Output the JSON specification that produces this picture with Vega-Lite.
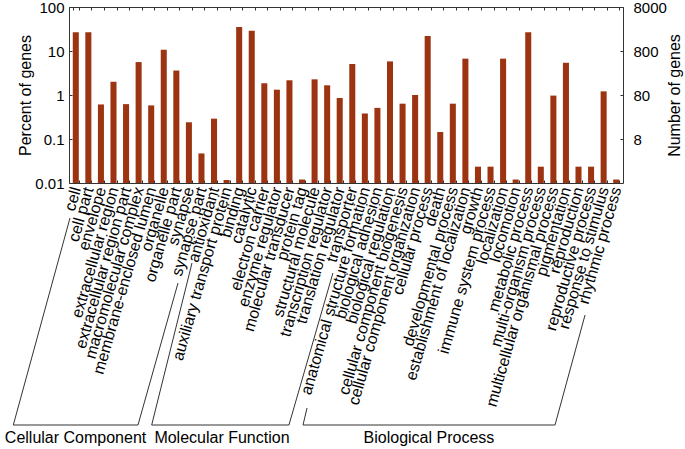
{
  "$schema": "https://vega.github.io/schema/vega-lite/v6.json",
  "width": 554,
  "height": 176,
  "autosize": {"type": "none"},
  "padding": {"left": 69, "top": 7, "right": 62, "bottom": 266},
  "config": {
    "font": "Liberation Sans",
    "view": {"stroke": null},
    "axis": {"domainColor": "#333", "tickColor": "#333", "labelColor": "#000", "titleColor": "#000", "titleFontWeight": "normal", "grid": false, "labelFontSize": 15, "titleFontSize": 16}
  },
  "datasets": {
    "go": [
      {"category": "Cellular Component", "term": "cell", "percent": 26.6},
      {"category": "Cellular Component", "term": "cell part", "percent": 26.6},
      {"category": "Cellular Component", "term": "envelope", "percent": 0.61},
      {"category": "Cellular Component", "term": "extracellular region", "percent": 2.0},
      {"category": "Cellular Component", "term": "extracellular region part", "percent": 0.62},
      {"category": "Cellular Component", "term": "macromolecular complex", "percent": 5.6},
      {"category": "Cellular Component", "term": "membrane-enclosed lumen", "percent": 0.58},
      {"category": "Cellular Component", "term": "organelle", "percent": 10.7},
      {"category": "Cellular Component", "term": "organelle part", "percent": 3.6},
      {"category": "Cellular Component", "term": "synapse", "percent": 0.24},
      {"category": "Cellular Component", "term": "synapse part", "percent": 0.047},
      {"category": "Molecular Function", "term": "antioxidant", "percent": 0.29},
      {"category": "Molecular Function", "term": "auxiliary transport protein", "percent": 0.0117},
      {"category": "Molecular Function", "term": "binding", "percent": 35},
      {"category": "Molecular Function", "term": "catalytic", "percent": 29},
      {"category": "Molecular Function", "term": "electron carrier", "percent": 1.85},
      {"category": "Molecular Function", "term": "enzyme regulator", "percent": 1.32},
      {"category": "Molecular Function", "term": "molecular transducer", "percent": 2.16},
      {"category": "Molecular Function", "term": "protein tag", "percent": 0.012},
      {"category": "Molecular Function", "term": "structural molecule", "percent": 2.27},
      {"category": "Molecular Function", "term": "transcription regulator", "percent": 1.66},
      {"category": "Molecular Function", "term": "translation regulator", "percent": 0.855},
      {"category": "Molecular Function", "term": "transporter", "percent": 5.07},
      {"category": "Biological Process", "term": "anatomical structure formation", "percent": 0.38},
      {"category": "Biological Process", "term": "biological adhesion", "percent": 0.51},
      {"category": "Biological Process", "term": "biological regulation", "percent": 5.8},
      {"category": "Biological Process", "term": "cellular component biogenesis", "percent": 0.635},
      {"category": "Biological Process", "term": "cellular component organization", "percent": 1.0},
      {"category": "Biological Process", "term": "cellular process", "percent": 21.9},
      {"category": "Biological Process", "term": "death", "percent": 0.144},
      {"category": "Biological Process", "term": "developmental process", "percent": 0.635},
      {"category": "Biological Process", "term": "establishment of localization", "percent": 6.7},
      {"category": "Biological Process", "term": "growth", "percent": 0.0235},
      {"category": "Biological Process", "term": "immune system process", "percent": 0.0235},
      {"category": "Biological Process", "term": "localization", "percent": 6.7},
      {"category": "Biological Process", "term": "locomotion", "percent": 0.012},
      {"category": "Biological Process", "term": "metabolic process", "percent": 26.6},
      {"category": "Biological Process", "term": "multi-organism process", "percent": 0.0235},
      {"category": "Biological Process", "term": "multicellular organismal process", "percent": 0.97},
      {"category": "Biological Process", "term": "pigmentation", "percent": 5.4},
      {"category": "Biological Process", "term": "reproduction", "percent": 0.0235},
      {"category": "Biological Process", "term": "reproductive process", "percent": 0.0235},
      {"category": "Biological Process", "term": "response to stimulus", "percent": 1.21},
      {"category": "Biological Process", "term": "rhythmic process", "percent": 0.012}
    ],
    "brackets": [
      {"category": "Cellular Component", "ord": 0, "idx": -0.461, "val": 0.0016},
      {"category": "Cellular Component", "ord": 1, "idx": -4.972, "val": 3.16e-8},
      {"category": "Cellular Component", "ord": 2, "idx": 4.95, "val": 3.16e-8},
      {"category": "Cellular Component", "ord": 3, "idx": 8.133, "val": 5.33e-5},
      {"category": "Molecular Function", "ord": 0, "idx": 9.246, "val": 1.52e-4},
      {"category": "Molecular Function", "ord": 1, "idx": 6.04, "val": 3.16e-8},
      {"category": "Molecular Function", "ord": 2, "idx": 16.96, "val": 3.16e-8},
      {"category": "Molecular Function", "ord": 3, "idx": 20.46, "val": 9.0e-5},
      {"category": "Biological Process", "ord": 0, "idx": 18.4, "val": 7.7e-8},
      {"category": "Biological Process", "ord": 1, "idx": 18.08, "val": 3.16e-8},
      {"category": "Biological Process", "ord": 2, "idx": 38.13, "val": 3.16e-8},
      {"category": "Biological Process", "ord": 3, "idx": 40.52, "val": 1e-5}
    ],
    "groups": [
      {"category": "Cellular Component", "idx": -0.02, "val": 1.6e-8},
      {"category": "Molecular Function", "idx": 11.63, "val": 1.6e-8},
      {"category": "Biological Process", "idx": 28.1, "val": 1.6e-8}
    ]
  },
  "layer": [
    {
      "layer": [
        {
          "data": {"name": "go"},
          "mark": {"type": "bar", "color": "#9c3311"},
          "encoding": {
            "x": {"field": "term", "type": "nominal", "sort": null,
              "scale": {"paddingInner": 0.52, "paddingOuter": 0.3},
              "axis": {"orient": "bottom", "title": null, "labelAngle": -74, "labelAlign": "right", "labelBaseline": "middle", "labelFontSize": 16, "labelLimit": 400, "labelOverlap": false, "tickBand": "extent", "tickSize": -3, "labelPadding": 7}},
            "y": {"field": "percent", "type": "quantitative", "stack": null,
              "scale": {"type": "log", "domain": [0.01, 100]},
              "axis": {"orient": "left", "title": "Percent of genes", "values": [0.01, 0.1, 1, 10, 100], "format": "~g", "tickSize": -3, "labelPadding": 8, "titlePadding": 1}},
            "y2": {"datum": 0.01}
          }
        },
        {
          "data": {"name": "go"},
          "mark": {"type": "tick", "opacity": 0},
          "encoding": {
            "x": {"field": "term", "type": "nominal", "sort": null,
              "scale": {"paddingInner": 0.52, "paddingOuter": 0.3},
              "axis": {"orient": "top", "title": null, "labels": false, "tickBand": "extent", "tickSize": -3}},
            "y": {"field": "percent", "type": "quantitative",
              "scale": {"type": "log", "domain": [0.01, 100]},
              "axis": {"orient": "right", "title": "Number of genes", "values": [0.1, 1, 10, 100], "labelExpr": "format(datum.value * 80, 'd')", "tickSize": -3, "labelPadding": 13, "titlePadding": 0, "titleAngle": 270, "titleBaseline": "top"}}
          }
        }
      ],
      "resolve": {"axis": {"x": "independent", "y": "independent"}}
    },
    {
      "data": {"name": "brackets"},
      "mark": {"type": "line", "color": "#333", "strokeWidth": 1, "clip": false},
      "encoding": {
        "x": {"field": "idx", "type": "quantitative", "scale": {"domain": [-0.54, 43.54], "nice": false, "zero": false}, "axis": null},
        "y": {"field": "val", "type": "quantitative", "scale": {"type": "log", "domain": [0.01, 100]}, "axis": null},
        "detail": {"field": "category"},
        "order": {"field": "ord"}
      }
    },
    {
      "data": {"name": "groups"},
      "mark": {"type": "text", "fontSize": 16, "align": "center", "baseline": "middle", "color": "#000", "clip": false},
      "encoding": {
        "x": {"field": "idx", "type": "quantitative", "scale": {"domain": [-0.54, 43.54], "nice": false, "zero": false}, "axis": null},
        "y": {"field": "val", "type": "quantitative", "scale": {"type": "log", "domain": [0.01, 100]}, "axis": null},
        "text": {"field": "category"}
      }
    }
  ],
  "resolve": {"scale": {"x": "independent", "y": "independent"}, "axis": {"x": "independent", "y": "independent"}}
}
